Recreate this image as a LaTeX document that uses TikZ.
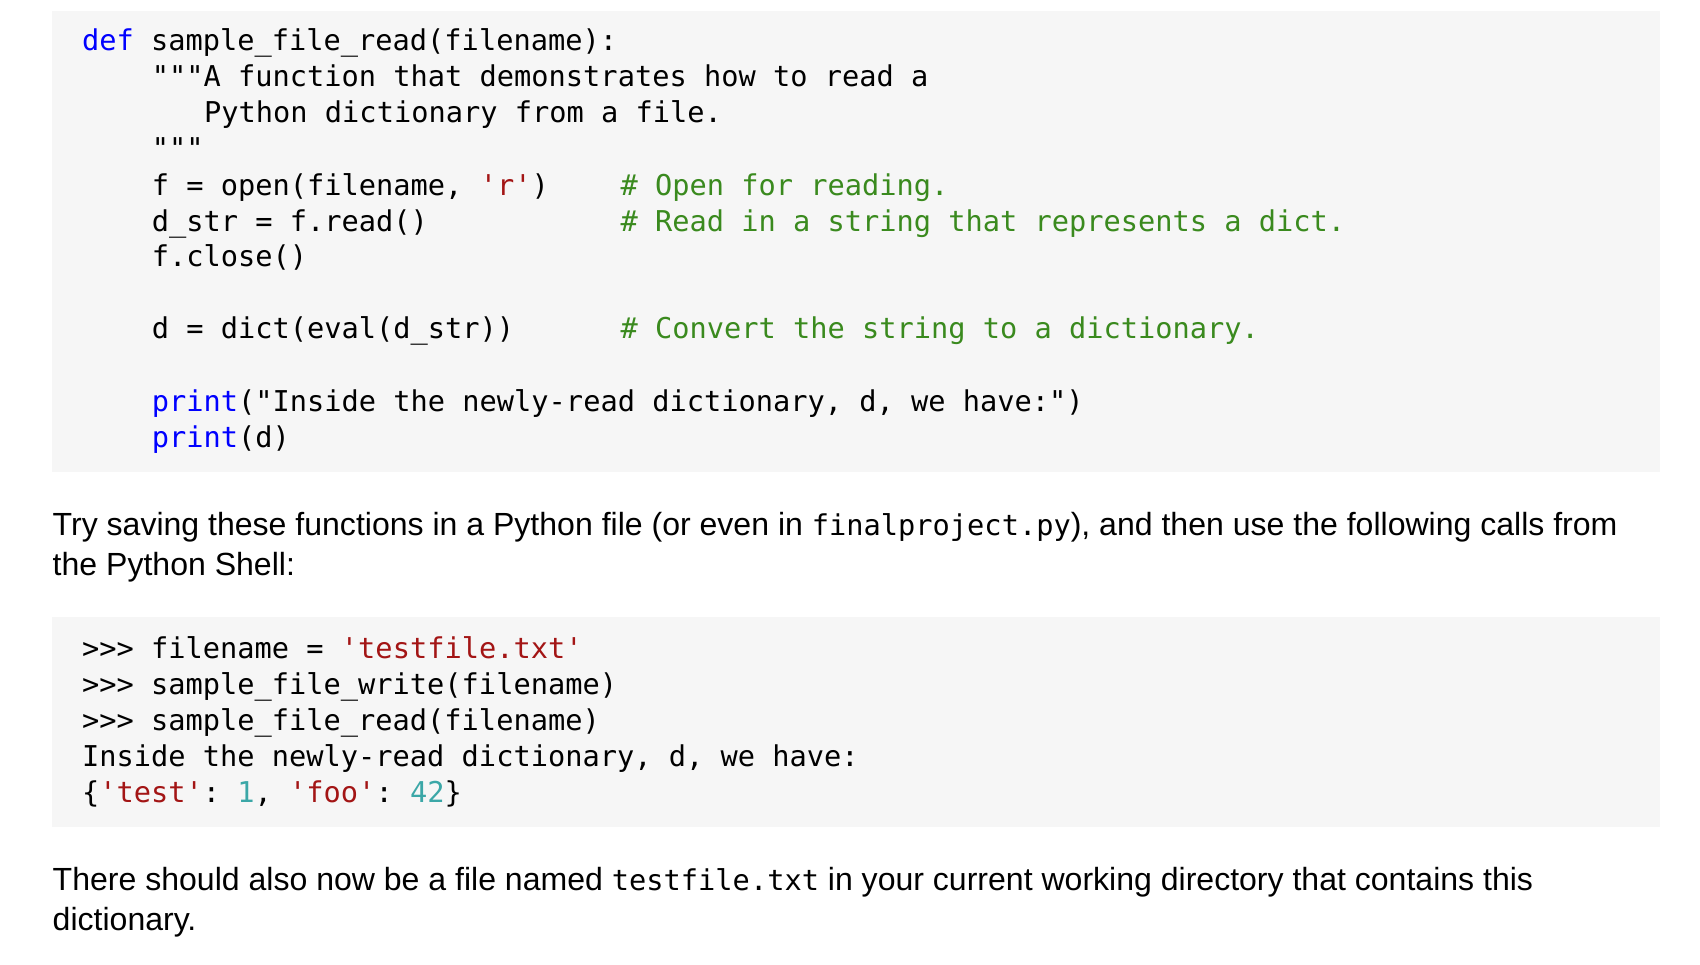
\documentclass[tikz,border=0pt]{standalone}
\usepackage{fontspec}
\setmainfont{Liberation Sans}
\setmonofont{DejaVu Sans Mono}
\definecolor{bgc}{HTML}{F6F6F6}
\definecolor{kw}{HTML}{0000FF}
\definecolor{st}{HTML}{A31515}
\definecolor{cm}{HTML}{3A8A1E}
\definecolor{nm}{HTML}{3BA7A7}
\newcommand{\us}{\char`\_}
\begin{document}
\begin{tikzpicture}[x=0.5pt,y=-0.5pt,
  code/.style={anchor=base west,inner sep=0,font=\fontsize{13.15}{16}\ttfamily},
  prose/.style={anchor=base west,inner sep=0,font=\fontsize{14.7}{18}\selectfont}]
\useasboundingbox (0,0) rectangle (1560,885);
\fill[bgc] (48,10) rectangle (1523,433);
\fill[bgc] (48,566) rectangle (1523,759);
\node[code] (l1) at (75,46) {\textcolor{kw}{def} sample\us file\us read(filename):};
\node[code] (l2) at (139,79) {"""A function that demonstrates how to read a};
\node[code] (l3) at (187,112) {Python dictionary from a file.};
\node[code] (l4) at (139,145) {"""};
\node[code] (l5) at (139,179) {f = open(filename, \textcolor{st}{'r'})};
\node[code] (c5) at (569,179) {\textcolor{cm}{\# Open for reading.}};
\node[code] (l6) at (139,212) {d\us str = f.read()};
\node[code] (c6) at (569,212) {\textcolor{cm}{\# Read in a string that represents a dict.}};
\node[code] (l7) at (139,245) {f.close()};
\node[code] (l8) at (139,311) {d = dict(eval(d\us str))};
\node[code] (c8) at (569,311) {\textcolor{cm}{\# Convert the string to a dictionary.}};
\node[code] (l9) at (139,378) {\textcolor{kw}{print}("Inside the newly-read dictionary, d, we have:")};
\node[code] (l10) at (139,411) {\textcolor{kw}{print}(d)};
\node[prose] (p1) at (48,491) {Try saving these functions in a Python file (or even in {\fontsize{13.15}{16}\ttfamily finalproject.py}), and then use the following calls from};
\node[prose] (p2) at (48,528) {the Python Shell:};
\node[code] (s1) at (75,604) {>{}>{}> filename = \textcolor{st}{'testfile.txt'}};
\node[code] (s2) at (75,637) {>{}>{}> sample\us file\us write(filename)};
\node[code] (s3) at (75,670) {>{}>{}> sample\us file\us read(filename)};
\node[code] (s4) at (75,703) {Inside the newly-read dictionary, d, we have:};
\node[code] (s5) at (75,736) {\{\textcolor{st}{'test'}: \textcolor{nm}{1}, \textcolor{st}{'foo'}: \textcolor{nm}{42}\}};
\node[prose] (q1) at (48,817) {There should also now be a file named {\fontsize{13.15}{16}\ttfamily testfile.txt} in your current working directory that contains this};
\node[prose] (q2) at (48,854) {dictionary.};
\end{tikzpicture}
\end{document}
